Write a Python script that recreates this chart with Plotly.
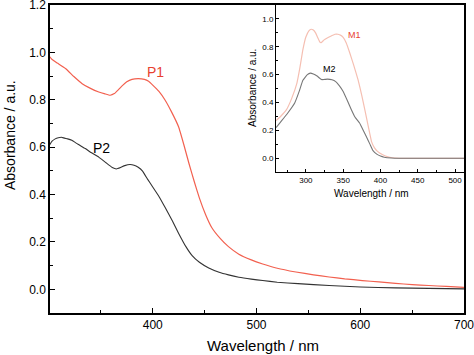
import plotly.graph_objects as go

# Main spectra (polymers)
p1_wl = [300, 303, 308, 316, 324, 332, 340, 348, 354, 359, 363, 367, 371, 375, 380, 386, 392, 396, 400, 406, 412, 418, 425, 430, 435, 440, 445, 451, 457, 465, 473, 483, 495, 506, 520, 538, 555, 570, 585, 602, 618, 634, 650, 666, 683, 700]
p1_abs = [0.985, 0.97, 0.955, 0.932, 0.898, 0.868, 0.848, 0.833, 0.825, 0.819, 0.826, 0.843, 0.861, 0.876, 0.886, 0.889, 0.886, 0.878, 0.862, 0.835, 0.798, 0.75, 0.685, 0.61, 0.53, 0.455, 0.385, 0.315, 0.26, 0.215, 0.18, 0.148, 0.124, 0.107, 0.089, 0.073, 0.061, 0.052, 0.044, 0.037, 0.031, 0.025, 0.02, 0.016, 0.012, 0.008]

p2_wl = [300, 303, 306, 309, 312, 315, 318, 322, 328, 335, 341, 348, 355, 361, 365, 369, 373, 378, 382, 386, 390, 395, 400, 406, 412, 419, 425, 432, 438, 445, 454, 464, 473, 483, 495, 506, 520, 540, 570, 600, 634, 666, 700]
p2_abs = [0.605, 0.625, 0.635, 0.64, 0.642, 0.638, 0.635, 0.629, 0.612, 0.594, 0.576, 0.558, 0.534, 0.514, 0.508, 0.514, 0.522, 0.527, 0.524, 0.515, 0.50, 0.465, 0.432, 0.392, 0.345, 0.288, 0.236, 0.18, 0.142, 0.114, 0.09, 0.072, 0.061, 0.051, 0.043, 0.037, 0.03, 0.024, 0.016, 0.01, 0.006, 0.004, 0.002]

# Inset spectra (monomers)
m1_wl = [260, 266, 274, 281, 288, 292, 296, 300, 304, 307, 310, 313, 316, 319, 321, 324, 328, 334, 339, 343, 347, 350, 354, 359, 364, 370, 375, 379, 384, 388, 392, 396, 403, 410, 416, 425, 512]
m1_abs = [0.27, 0.3, 0.349, 0.43, 0.54, 0.65, 0.78, 0.87, 0.915, 0.926, 0.92, 0.9, 0.865, 0.832, 0.832, 0.848, 0.862, 0.878, 0.89, 0.89, 0.882, 0.868, 0.83, 0.754, 0.67, 0.563, 0.45, 0.349, 0.22, 0.12, 0.075, 0.05, 0.026, 0.01, 0.004, 0.0, 0.0]

m2_wl = [260, 266, 275, 285, 291, 296, 302, 306, 310, 315, 321, 325, 329, 335, 340, 345, 350, 356, 361, 366, 372, 377, 381, 386, 390, 395, 400, 405, 415, 425, 512]
m2_abs = [0.22, 0.26, 0.32, 0.397, 0.48, 0.56, 0.60, 0.611, 0.605, 0.59, 0.565, 0.566, 0.568, 0.563, 0.55, 0.52, 0.48, 0.41, 0.349, 0.295, 0.253, 0.2, 0.157, 0.1, 0.055, 0.03, 0.016, 0.008, 0.002, 0.0, 0.0]

main_xticks = [400, 500, 600, 700]
main_yticks = [0.0, 0.2, 0.4, 0.6, 0.8, 1.0, 1.2]
inset_xticks = [300, 350, 400, 450, 500]
inset_yticks = [0.0, 0.2, 0.4, 0.6, 0.8, 1.0]

FONT = "Liberation Sans, Arial, sans-serif"

fig = go.Figure()
fig.add_trace(go.Scatter(x=p1_wl, y=p1_abs, mode="lines", line=dict(color="#f2604f", width=1.2, shape="spline", smoothing=0.3), xaxis="x", yaxis="y"))
fig.add_trace(go.Scatter(x=p2_wl, y=p2_abs, mode="lines", line=dict(color="#333333", width=1.1, shape="spline", smoothing=0.3), xaxis="x", yaxis="y"))
fig.add_trace(go.Scatter(x=m1_wl, y=m1_abs, mode="lines", line=dict(color="#f5bfb2", width=1.2, shape="spline", smoothing=0.3), xaxis="x2", yaxis="y2"))
fig.add_trace(go.Scatter(x=m2_wl, y=m2_abs, mode="lines", line=dict(color="#777777", width=1.1, shape="spline", smoothing=0.3), xaxis="x2", yaxis="y2"))

axis_common = dict(showgrid=False, zeroline=False, showline=True, linecolor="black", mirror=True,
                   ticks="inside", tickcolor="black", automargin=False, ticklabeloverflow="allow")

L, R, T, B = 50, 10, 5, 42
W, H = 474, 355

fig.update_layout(
    width=W, height=H,
    margin=dict(l=L, r=R, t=T, b=B, autoexpand=False),
    paper_bgcolor="white", plot_bgcolor="white",
    showlegend=False,
    font=dict(family=FONT, color="black"),
    xaxis=dict(**axis_common, domain=[0, 1], range=[301, 700], tickvals=main_xticks, ticklen=5, linewidth=1.5, tickwidth=1.2,
               minor=dict(ticks="inside", tickvals=[350, 450, 550, 650], ticklen=3, tickcolor="black"),
               tickfont=dict(size=12, family=FONT), anchor="y"),
    yaxis=dict(**axis_common, domain=[0, 1], range=[-0.1, 1.2], tickvals=main_yticks, tickformat=".1f", ticklen=5, linewidth=1.5, tickwidth=1.2,
               minor=dict(ticks="inside", tickvals=[-0.1, 0.1, 0.3, 0.5, 0.7, 0.9, 1.1], ticklen=3, tickcolor="black"),
               tickfont=dict(size=12, family=FONT), anchor="x"),
    xaxis2=dict(**axis_common, domain=[0.546, 1.0], range=[260, 512], tickvals=inset_xticks, ticklen=3, linewidth=1.2, tickwidth=1,
                minor=dict(ticks="inside", tickvals=[275, 325, 375, 425, 475], ticklen=2, tickcolor="black"),
                tickfont=dict(size=8, family=FONT), anchor="y2"),
    yaxis2=dict(**axis_common, domain=[0.457, 1.0], range=[-0.1, 1.1], tickvals=inset_yticks, tickformat=".1f", ticklen=3, linewidth=1.2, tickwidth=1,
                minor=dict(ticks="inside", tickvals=[0.1, 0.3, 0.5, 0.7, 0.9], ticklen=2, tickcolor="black"),
                tickfont=dict(size=8, family=FONT), anchor="x2"),
)

ann = [
    dict(text="P1", x=403, y=0.916, xref="x", yref="y", showarrow=False, font=dict(size=14, color="#e8412f", family=FONT)),
    dict(text="P2", x=351, y=0.595, xref="x", yref="y", showarrow=False, font=dict(size=14, color="black", family=FONT)),
    dict(text="M1", x=365.6, y=0.885, xref="x2", yref="y2", showarrow=False, font=dict(size=9, color="#e8412f", family=FONT)),
    dict(text="M2", x=331, y=0.642, xref="x2", yref="y2", showarrow=False, font=dict(size=9, color="black", family=FONT)),
    dict(text="Wavelength / nm", x=263, y=345, showarrow=False, font=dict(size=15, family=FONT)),
    dict(text="Absorbance / a.u.", x=10, y=135, showarrow=False, textangle=-90, font=dict(size=14, family=FONT)),
    dict(text="Wavelength / nm", x=371, y=193, showarrow=False, font=dict(size=10, family=FONT)),
    dict(text="Absorbance / a.u.", x=253, y=88, showarrow=False, textangle=-90, font=dict(size=10, family=FONT)),
]
# convert pixel-placed titles into paper coordinates
pw, ph = W - L - R, H - T - B
out = []
for a in ann:
    if a.get("xref") in ("x", "x2"):
        out.append(a)
        continue
    px, py = a["x"], a["y"]
    a = dict(a)
    a["xref"], a["yref"] = "paper", "paper"
    a["x"] = (px - L) / pw
    a["y"] = (H - B - py) / ph
    a["xanchor"], a["yanchor"] = "center", "middle"
    out.append(a)
fig.update_layout(annotations=out)

fig.write_html("out.html", config={"displayModeBar": False},
               post_script="document.body.style.margin='0px';document.body.style.overflow='hidden';")
